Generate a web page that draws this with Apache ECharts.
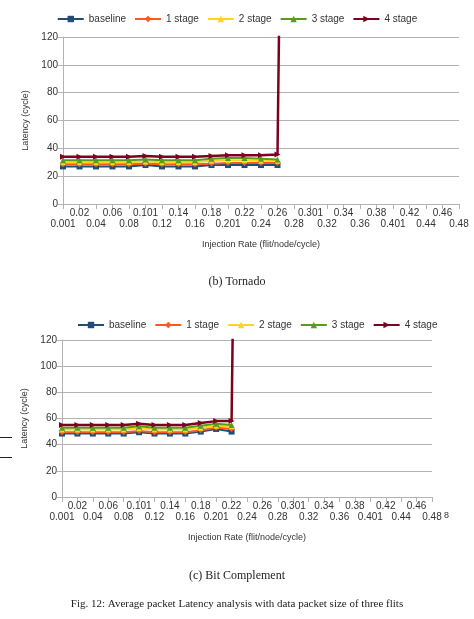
<!DOCTYPE html>
<html><head><meta charset="utf-8">
<script src="https://cdn.jsdelivr.net/npm/echarts@6/dist/echarts.min.js"></script>
<style>html,body{margin:0;padding:0;background:#fff}#c{width:474px;height:619px}</style>
</head><body><div id="c"></div>
<script>
var rates = ['0.001','0.02','0.04','0.06','0.08','0.101','0.12','0.14','0.16','0.18','0.201','0.22','0.24','0.26','0.28','0.301','0.32','0.34','0.36','0.38','0.401','0.42','0.44','0.46','0.48'];
var names = ['baseline', '1 stage', '2 stage', '3 stage', '4 stage'];
var colors = ['#1f4e79', '#ff5722', '#ffd320', '#579d1c', '#7e0021'];
var symbols = ['rect', 'diamond', 'triangle', 'triangle', 'triangle'];

// (b) Tornado
var tornado = [
    [27, 27, 27, 27, 27, 28, 27, 27, 27, 28, 28, 28, 28, 28],
    [28.5, 28.5, 28.5, 28.5, 28.5, 29, 28.5, 28.5, 28.5, 29, 29.5, 29.5, 29.5, 29.5],
    [30, 30, 30, 30, 30, 30.5, 30, 30, 30, 31, 31.5, 31.5, 31, 31],
    [31.5, 31.5, 31.5, 31.5, 31.5, 32, 31.5, 31.5, 31.5, 32.5, 33, 33, 32.5, 32],
    [34, 34, 34, 34, 34, 34.5, 34, 34, 34, 34.5, 35, 35, 35, 35.5, 1000]
];
// (c) Bit Complement
var bitComp = [
    [48.5, 48.5, 48.5, 48.5, 48.5, 49.5, 48.5, 48.5, 48.5, 50, 52, 50],
    [49.5, 49.5, 49.5, 49.5, 49.5, 50.5, 49.5, 49.5, 49.5, 51, 53, 52],
    [51.5, 51.5, 51.5, 51.5, 51.5, 52.5, 51.5, 51.5, 51.5, 53, 54.5, 54],
    [53, 53, 53, 53, 53, 54, 53, 53, 53, 54.5, 56, 55],
    [55, 55, 55, 55, 55, 56, 55, 55, 55, 56.5, 58, 58, 1000]
];

var myChart = echarts.init(document.getElementById('c'));
var font = 'Liberation Sans';

function xAxis(gi) {
    return {
        type: 'category', gridIndex: gi, data: rates, boundaryGap: false,
        name: 'Injection Rate (flit/node/cycle)', nameLocation: 'middle', nameGap: 36,
        nameTextStyle: {fontSize: 9, color: '#333', fontFamily: font},
        axisLine: {lineStyle: {color: '#b3b3b3'}},
        axisTick: {show: true, interval: 0, lineStyle: {color: '#b3b3b3'}},
        axisLabel: {
            interval: 0, fontSize: 10, color: '#333', fontFamily: font, margin: 4, lineHeight: 11,
            formatter: function (v, i) { return i % 2 ? v : '\n' + v; }
        }
    };
}
function yAxis(gi) {
    return {
        type: 'value', gridIndex: gi, min: 0, max: 120, interval: 20,
        name: 'Latency (cycle)', nameLocation: 'middle', nameGap: 24,
        nameTextStyle: {fontSize: 9, color: '#333', fontFamily: font},
        axisLine: {show: true, lineStyle: {color: '#b3b3b3'}},
        axisTick: {show: true, lineStyle: {color: '#b3b3b3'}},
        axisLabel: {fontSize: 10, color: '#333', fontFamily: font, margin: 5},
        splitLine: {lineStyle: {color: '#b3b3b3'}}
    };
}

var series = [];
[tornado, bitComp].forEach(function (set, gi) {
    set.forEach(function (vals, k) {
        series.push({
            name: names[k], type: 'line', xAxisIndex: gi, yAxisIndex: gi,
            data: vals, symbol: symbols[k], symbolSize: 6,
            symbolRotate: k === 4 ? -90 : 0,
            lineStyle: {width: k === 4 ? 2.5 : 2, color: colors[k]},
            itemStyle: {color: colors[k]},
            animation: false
        });
    });
});

function legend(top, left) {
    return {
        top: top, left: left, data: names, itemWidth: 26, itemHeight: 8, itemGap: 8,
        textStyle: {fontSize: 10, color: '#333', fontFamily: font}
    };
}

myChart.setOption({
    color: colors,
    legend: [legend(9, 'center'), legend(315, 72)],
    grid: [
        {left: 63, right: 15, top: 37, height: 167},
        {left: 62, right: 42, top: 340, height: 157}
    ],
    xAxis: [xAxis(0), xAxis(1)],
    yAxis: [yAxis(0), yAxis(1)],
    series: series,
    graphic: [
        {type: 'text', left: 'center', top: 276, style: {text: '(b) Tornado', font: '12px "Liberation Serif"', fill: '#222'}},
        {type: 'text', left: 'center', top: 570, style: {text: '(c) Bit Complement', font: '12px "Liberation Serif"', fill: '#222'}},
        {type: 'text', left: 'center', top: 599, style: {text: 'Fig. 12: Average packet Latency analysis with data packet size of three flits', font: '11px "Liberation Serif"', fill: '#222'}},
        {type: 'text', left: 444, top: 511, style: {text: '8', font: '9px "Liberation Sans"', fill: '#333'}},
        {type: 'rect', shape: {x: 0, y: 437, width: 12, height: 1}, style: {fill: '#222'}},
        {type: 'rect', shape: {x: 0, y: 457, width: 12, height: 1}, style: {fill: '#222'}}
    ]
});
</script>
</body></html>
